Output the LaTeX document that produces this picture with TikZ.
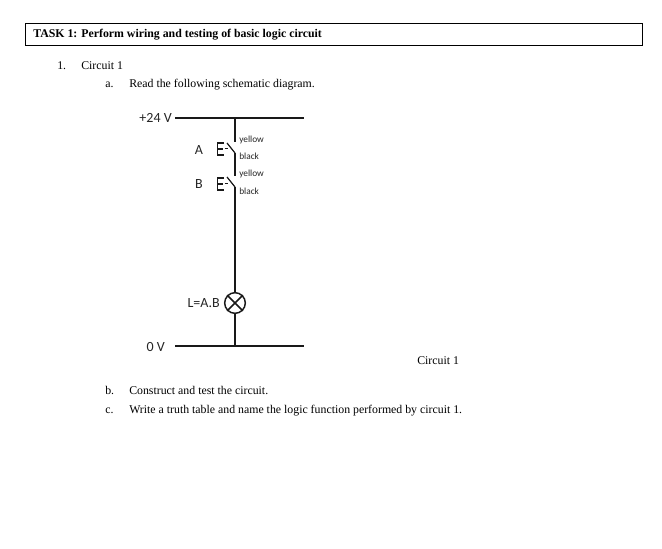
\documentclass[tikz,border=0pt]{standalone}
\usepackage{fontspec}
\setmainfont{Liberation Serif}
\newfontfamily\schemfont{Carlito}
\begin{document}
\begin{tikzpicture}[x=0.75pt,y=-0.75pt,
  doc/.style={anchor=west,inner sep=0pt,yshift=-1.1pt,font=\fontsize{8.87}{11}\selectfont},
  schem/.style={inner sep=0pt,font=\schemfont\fontsize{10.5}{12}\selectfont,text=black!85},
  wirecol/.style={inner sep=0pt,anchor=west,font=\schemfont\fontsize{7}{8}\selectfont,text=black!85},
  wire/.style={draw=black!90,line width=1.1pt},
  sw/.style={draw=black!90,line width=0.9pt}]
\useasboundingbox (0,0) rectangle (662,549);
\fill[white] (0,0) rectangle (662,549);
\node[draw,line width=0.7pt,minimum width=617*0.75pt,minimum height=22*0.75pt,inner sep=0pt,anchor=north west] (taskbox) at (25,23) {};
\node[doc,font=\bfseries\fontsize{8.87}{11}\selectfont] (tasktitle) at (33,33) {TASK 1: Perform wiring and testing of basic logic circuit};
\node[doc] (n1) at (57,64) {1.};
\node[doc] (c1) at (81,64) {Circuit 1};
\node[doc] (na) at (105,83) {a.};
\node[doc] (ta) at (129,83) {Read the following schematic diagram.};
\node[doc] (cap) at (417,359) {Circuit 1};
\node[doc] (nb) at (105,389) {b.};
\node[doc] (tb) at (129,389) {Construct and test the circuit.};
\node[doc] (nc) at (105,409) {c.};
\node[doc] (tc) at (129,409) {Write a truth table and name the logic function performed by circuit 1.};
% rails
\coordinate (railTL) at (175,118); \coordinate (railTR) at (304,118);
\coordinate (railBL) at (175,346); \coordinate (railBR) at (304,346);
\coordinate (top) at (235,118); \coordinate (bot) at (235,346);
\draw[wire] (railTL) -- (railTR);
\draw[wire] (railBL) -- (railBR);
\node[schem,anchor=east] (vp) at (172,118) {+24 V};
\node[schem,anchor=east] (v0) at (165,347) {0 V};
% switches
\coordinate (a1) at (235,142); \coordinate (a2) at (235,153);
\coordinate (b1) at (235,176); \coordinate (b2) at (235,187);
\coordinate (lampin) at (235,293);
\draw[wire] (top) -- (a1);
\draw[wire] (a2) -- (b1);
\draw[wire] (b2) -- (lampin);
\draw[sw] (227,143) -- (a2);
\draw[sw] (227,177) -- (b2);
\draw[sw] (224,143) -- (217.5,143) -- (217.5,155) -- (224,155) (217.5,149) -- (223,149) (224.5,148.5) -- (228,148.5);
\draw[sw] (224,178) -- (217.5,178) -- (217.5,190) -- (224,190) (217.5,184) -- (223,184) (224.5,183.5) -- (228,183.5);
\node[schem] (A) at (199,150) {A};
\node[schem] (B) at (199,184) {B};
\node[wirecol] (y1) at (239,140) {yellow};
\node[wirecol] (k1) at (239,156) {black};
\node[wirecol] (y2) at (239,174) {yellow};
\node[wirecol] (k2) at (239,191) {black};
% lamp
\node[draw=black!90,line width=1.1pt,circle,minimum size=15.5pt,inner sep=0pt] (lamp) at (235,303) {};
\draw[wire] (lamp.north west) -- (lamp.south east) (lamp.north east) -- (lamp.south west);
\draw[wire] (lamp.south) -- (bot);
\node[schem,anchor=east] (L) at (220,303) {L=A.B};
\end{tikzpicture}
\end{document}
